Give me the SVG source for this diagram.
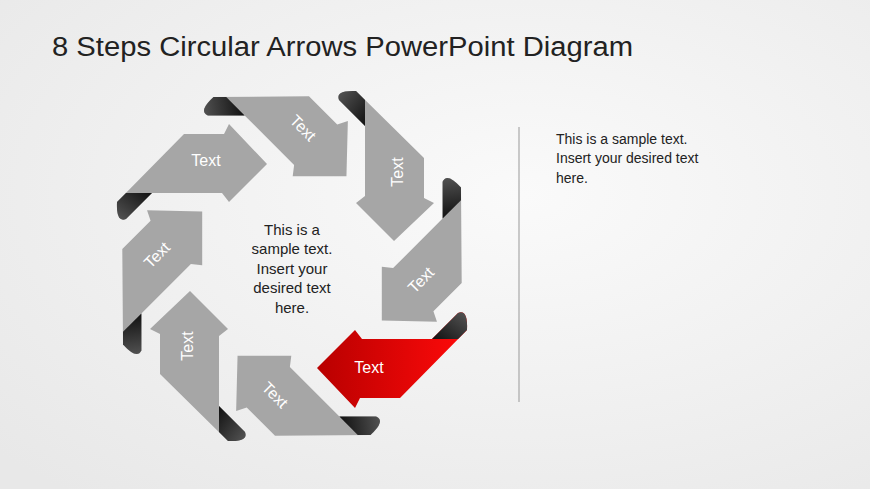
<svg xmlns="http://www.w3.org/2000/svg" width="870" height="489" viewBox="0 0 870 489">
<defs>
<radialGradient id="bg" cx="0.6" cy="0.4" r="0.8"><stop offset="0" stop-color="#fafafa"/><stop offset="1" stop-color="#e8e8e8"/></radialGradient>
<linearGradient id="red" x1="0" y1="0" x2="1" y2="0"><stop offset="0" stop-color="#b80000"/><stop offset="1" stop-color="#ff0a0a"/></linearGradient>
<linearGradient id="dk" x1="0" y1="1" x2="1" y2="0"><stop offset="0" stop-color="#111"/><stop offset="1" stop-color="#555"/></linearGradient>
<path id="body" d="M317,368 L355,330 L362,339 L432,339 L458,313 Q468,309 467,330 L400,398 L360,398 L355,408 Z"/>
<path id="curl" d="M432,339 L458,313 Q468,309 467,330 L458,339 Z"/>
</defs>
<style>
.g{fill:#a6a6a6}
.c{fill:url(#dk)}
.lab{font-family:"Liberation Sans",Arial,sans-serif;font-size:16px;fill:#fff;text-anchor:middle;dominant-baseline:central}
.t{font-family:"Liberation Sans",Arial,sans-serif;fill:#222}
</style>
<rect width="870" height="489" fill="url(#bg)"/>
<text class="t" x="52" y="56" font-size="27" textLength="581" lengthAdjust="spacingAndGlyphs">8 Steps Circular Arrows PowerPoint Diagram</text>
<g id="connectors"/>
<g id="a2" transform="rotate(45 292 266)"><use href="#body" class="g"/><use href="#curl" class="c"/></g>
<g id="a3" transform="rotate(90 292 266)"><use href="#body" class="g"/><use href="#curl" class="c"/></g>
<g id="a4" transform="rotate(135 292 266)"><use href="#body" class="g"/><use href="#curl" class="c"/></g>
<g id="a5" transform="rotate(180 292 266)"><use href="#body" class="g"/><use href="#curl" class="c"/></g>
<g id="a6" transform="rotate(225 292 266)"><use href="#body" class="g"/><use href="#curl" class="c"/></g>
<g id="a7" transform="rotate(270 292 266)"><use href="#body" class="g"/><use href="#curl" class="c"/></g>
<g id="a8" transform="rotate(315 292 266)"><use href="#body" class="g"/><use href="#curl" class="c"/></g>
<g id="a1"><use href="#body" fill="url(#red)"/><use href="#curl" class="c"/></g>
<g id="labels">
<text class="lab" transform="translate(369,367)">Text</text>
<text class="lab" transform="translate(275,395) rotate(45)">Text</text>
<text class="lab" transform="translate(187,346) rotate(-90)">Text</text>
<text class="lab" transform="translate(157,255) rotate(-45)">Text</text>
<text class="lab" transform="translate(206,160)">Text</text>
<text class="lab" transform="translate(303,128) rotate(45)">Text</text>
<text class="lab" transform="translate(397,172) rotate(-90)">Text</text>
<text class="lab" transform="translate(421,280) rotate(-45)">Text</text>
</g>
<g id="center" class="t" font-size="15" text-anchor="middle">
<text x="292" y="235">This is a</text>
<text x="292" y="254">sample text.</text>
<text x="292" y="274">Insert your</text>
<text x="292" y="293">desired text</text>
<text x="292" y="313">here.</text>
</g>
<line x1="519" y1="127" x2="519" y2="402" stroke="#999" stroke-width="1"/>
<g id="side" class="t" font-size="14">
<text x="556" y="144">This is a sample text.</text>
<text x="556" y="163">Insert your desired text</text>
<text x="556" y="183">here.</text>
</g>
</svg>
